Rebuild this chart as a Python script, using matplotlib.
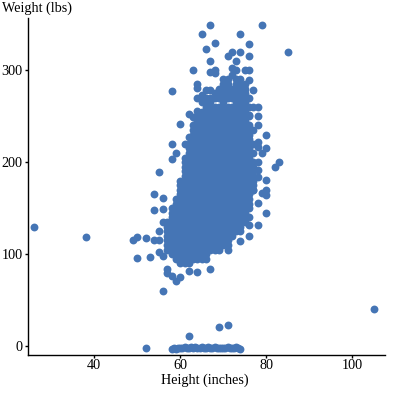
import matplotlib
matplotlib.use("Agg")
import matplotlib.pyplot as plt

w_57 = [105, 110, 115, 120, 125, 130, 135]
w_58 = [100, 105, 110, 115, 120, 125, 130, 135, 140, 145, 150]
w_59 = [95, 100, 105, 110, 115, 120, 125, 130, 135, 140, 145, 150, 155, 160]
w_60 = [90, 95, 100, 105, 110, 115, 120, 125, 130, 135, 140, 145, 150, 155, 160, 165, 170, 175, 180]
w_61 = [90, 95, 100, 105, 110, 115, 120, 125, 130, 135, 140, 145, 150, 155, 160, 165, 170, 175, 180,
        185, 190, 195, 200, 205]
w_62 = [90, 95, 100, 105, 110, 115, 120, 125, 130, 135, 140, 145, 150, 155, 160, 165, 170, 175, 180,
        185, 190, 195, 200, 205, 210, 215, 220]
w_63 = [95, 100, 105, 110, 115, 120, 125, 130, 135, 140, 145, 150, 155, 160, 165, 170, 175, 180,
        185, 190, 195, 200, 205, 210, 215, 220, 225, 230, 235, 240]
w_64 = [95, 100, 105, 110, 115, 120, 125, 130, 135, 140, 145, 150, 155, 160, 165, 170, 175, 180,
        185, 190, 195, 200, 205, 210, 215, 220, 225, 230, 235, 240, 245, 250]
w_65 = [95, 100, 105, 110, 115, 120, 125, 130, 135, 140, 145, 150, 155, 160, 165, 170, 175, 180,
        185, 190, 195, 200, 205, 210, 215, 220, 225, 230, 235, 240, 245, 250, 255, 265]
w_66 = [95, 100, 105, 110, 115, 120, 125, 130, 135, 140, 145, 150, 155, 160, 165, 170, 175, 180,
        185, 190, 195, 200, 205, 210, 215, 220, 225, 230, 235, 240, 245, 250, 255, 260, 265, 270]
w_67 = [105, 110, 115, 120, 125, 130, 135, 140, 145, 150, 155, 160, 165, 170, 175, 180,
        185, 190, 195, 200, 205, 210, 215, 220, 225, 230, 235, 240, 245, 250, 255, 260, 265, 270]
w_68 = [105, 110, 115, 120, 125, 130, 135, 140, 145, 150, 155, 160, 165, 170, 175, 180,
        185, 190, 195, 200, 205, 210, 215, 220, 225, 230, 235, 240, 245, 250, 255, 260, 270, 275]
w_69 = [105, 110, 115, 120, 125, 130, 135, 140, 145, 150, 155, 160, 165, 170, 175, 180,
        185, 190, 195, 200, 205, 210, 215, 220, 225, 230, 235, 240, 245, 250, 255, 260, 270, 275, 280]
w_70 = [110, 115, 120, 125, 130, 135, 140, 145, 150, 155, 160, 165, 170, 175, 180,
        185, 190, 195, 200, 205, 210, 215, 220, 225, 230, 235, 240, 245, 250, 255, 260,
        265, 270, 275, 280, 285, 290]
w_71 = [110, 115, 120, 125, 130, 135, 140, 145, 150, 155, 160, 165, 170, 175, 180,
        185, 190, 195, 200, 205, 210, 215, 220, 225, 230, 235, 240, 245, 250, 255, 260,
        270, 275, 280, 285, 290]
w_72 = [120, 125, 130, 135, 140, 145, 150, 155, 160, 165, 170, 175, 180,
        185, 190, 195, 200, 205, 210, 215, 220, 225, 230, 235, 240, 245, 250, 255, 260,
        270, 275, 280, 295]
w_73 = [125, 130, 135, 140, 145, 150, 155, 160, 165, 170, 175, 180,
        185, 190, 195, 200, 205, 210, 215, 220, 225, 230, 235, 240, 245, 250, 255, 260,
        265, 270, 275, 280, 285, 290]
w_74 = [125, 130, 135, 140, 145, 150, 155, 160, 165, 170, 175, 180,
        185, 190, 195, 200, 205, 210, 215, 220, 225, 230, 235, 240, 245, 250, 255, 260,
        265, 270, 275, 280, 285, 290]
w_75 = [135, 140, 145, 150, 155, 160, 165, 170, 175, 180,
        185, 190, 195, 200, 205, 210, 215, 220, 225, 230, 235, 240, 245, 250, 255, 260,
        265, 270, 275, 280, 285]
w_76 = [150, 155, 160, 165, 170, 175, 180,
        185, 190, 195, 200, 205, 210, 215, 220, 225, 230, 235, 240, 250, 260]
w_77 = [170, 175, 180, 185, 190, 195, 200, 210, 220]

core_heights = list(range(57, 78))
core_weights = [w_57, w_58, w_59, w_60, w_61, w_62, w_63, w_64, w_65, w_66, w_67,
                w_68, w_69, w_70, w_71, w_72, w_73, w_74, w_75, w_76, w_77]

# people entered with no weight, the row along the bottom
zero_heights = [52, 58, 58.5, 59, 59.5, 60, 60.5, 61, 61.5, 62, 62.5, 63, 63.5, 64, 64.5, 65, 65.5, 66, 66.5,
                67, 67.5, 68, 68.5, 69, 69.5, 70, 70.5, 71, 71.5, 72, 72.5, 73, 73.5, 74]
zero_weights = [-2, -3, -2, -3, -2, -2, -2, -1, -2, -2, -1, -2, -1, -2, -2, -1, -2, -2, -1,
                -2, -2, -1, -2, -2, -2, -2, -2, -1, -2, -2, -2, -1, -2, -3]

# single dots around the cloud
out_heights = [65, 63, 58, 64, 64, 64, 62, 63, 64, 60, 62, 58, 61, 59, 58, 55, 54, 56, 54, 56,
               26, 38, 49, 50, 52, 50, 53, 54, 55, 55, 56, 55, 56, 57, 57, 58, 59, 60, 56, 62, 64,
               62, 67, 69, 71, 105, 71, 74, 76, 78, 76, 80, 78, 76, 80, 79,
               67, 79, 74, 68, 76, 66, 85, 72, 74, 71, 76, 67, 73, 67, 68, 68, 72, 73, 75, 76,
               76, 77, 66, 67, 65, 76, 66, 78, 77, 78, 76, 78, 77, 80, 78, 78, 80, 79,
               78, 83, 82, 78, 78, 80, 80, 77]
out_weights = [339, 300, 277, 285, 281, 270, 252, 249, 256, 242, 228, 220, 220, 210, 204, 189, 165, 161, 148, 149,
               130, 119, 115, 119, 118, 96, 97, 115, 115, 125, 135, 103, 98, 84, 80, 76, 71, 75, 60, 82, 81,
               11, 84, 21, 23, 40, 105, 114, 120, 132, 132, 145, 156, 140, 164, 167,
               349, 349, 339, 330, 329, 323, 320, 320, 320, 315, 315, 310, 310, 298, 300, 297, 302, 300, 300, 300,
               289, 279, 279, 279, 273, 270, 265, 260, 260, 250, 251, 240, 235, 230, 222, 217, 215, 210,
               200, 200, 195, 192, 184, 181, 170, 170]

x_ticks = [40, 60, 80, 100]
y_ticks = [0, 100, 200, 300]

plt.rcParams['font.family'] = ['Liberation Serif', 'DejaVu Serif']

fig = plt.figure(figsize=(3.93, 3.93), dpi=100)
ax = fig.add_axes([27.5/393, 1 - 355.3/393, (385 - 27.5)/393, (355.3 - 18)/393])

color = '#4575b5'
size = 32
for h, ws in zip(core_heights, core_weights):
    ax.scatter([h] * len(ws), ws, s=size, color=color, linewidths=0)
ax.scatter(zero_heights, zero_weights, s=size, color=color, linewidths=0)
ax.scatter(out_heights, out_weights, s=size, color=color, linewidths=0)

ax.set_xlim(24.5, 107.6)
ax.set_ylim(-9.8, 356.8)
ax.set_xticks(x_ticks)
ax.set_yticks(y_ticks)
ax.tick_params(labelsize=10.2, length=2, width=1, colors='black')
ax.tick_params(axis='x', pad=0.5)
ax.tick_params(axis='y', pad=1.5)

ax.spines['top'].set_visible(False)
ax.spines['right'].set_visible(False)
ax.spines['left'].set_linewidth(1)
ax.spines['bottom'].set_linewidth(1)

fig.text(204.5/393, 1 - 383.5/393, 'Height (inches)', fontsize=10.2, ha='center', va='baseline')
fig.text(2/393, 1 - 12/393, 'Weight (lbs)', fontsize=10.2, ha='left', va='baseline')

fig.savefig('out.png', dpi=100)
